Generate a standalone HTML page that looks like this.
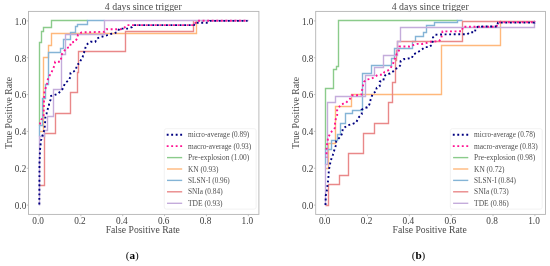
<!DOCTYPE html>
<html><head><meta charset="utf-8"><title>ROC curves</title>
<style>
html,body{margin:0;padding:0;background:#fff;width:550px;height:266px;overflow:hidden}
svg{display:block;font-family:'Liberation Serif', 'DejaVu Serif', serif}
</style></head><body>
<svg width="550" height="266" viewBox="0 0 550 266"><rect x="0" y="0" width="550" height="266" fill="#ffffff"/><text x="143.3" y="9.5" text-anchor="middle" font-size="10.4" textLength="77" lengthAdjust="spacingAndGlyphs" fill="#4a4a4a">4 days since trigger</text><clipPath id="cl"><rect x="28.5" y="11.4" width="230.39999999999998" height="203.0"/></clipPath><g clip-path="url(#cl)" fill="none" stroke-linejoin="miter"><g><path d="M39.5,125.5 V42.5 H41.5 V31.5 H43.5 V27.5 H51.5 V20.5 H87.5" stroke="#8bcb8b" stroke-width="1.4"/><path d="M39.5,131.5 H43.5 V57.5 H48.5 V45.5 H51.5 V33.5 H196.5 V20.5" stroke="#ffb87b" stroke-width="1.4"/><path d="M39.5,136.5 V125.5 H42.5 V98.5 H45.5 V84.5 H48.5 V52.5 H60.5 V48.5 H63.5 V39.5 H70.5 V32.5 H75.5 V26.5 H77.5 V24.5 H87.5 V20.5 H104.5" stroke="#84b4d6" stroke-width="1.4"/><path d="M39.5,185.5 H44.5 V133.5 H55.5 V113.5 H70.5 V92.5 H77.5 V72.5 H78.5 V51.5 H125.5 V31.5 H193.5 V20.5" stroke="#e98889" stroke-width="1.4"/><path d="M39.5,205.5 V136.5 H44.5 V130.5 H47.5 V116.5 H53.5 V89.5 H61.5 V54.5 H65.5 V34.5 H104.5 V20.5 H248.5" stroke="#c4acdb" stroke-width="1.4"/></g><polyline points="39.4,125.5 41.3,119.8 43.6,115.5 44.1,97.0 44.4,92.4 45.5,88.4 46.9,85.3 47.4,80.6 49.1,76.4 51.4,72.6 52.9,69.3 54.3,65.8 55.2,61.8 60.0,61.8 61.2,58.0 62.0,54.0 64.2,51.0 66.5,48.0 70.1,47.0 70.8,42.5 75.0,41.9 77.2,38.3 78.0,34.5 81.6,32.4 104.5,31.8 106.5,29.2 121.0,29.2 124.4,27.6 127.0,25.1 194.0,25.1 197.0,20.8 248.0,20.8" stroke="#ff1493" stroke-width="1.9" stroke-dasharray="1.9 2.65" stroke-dashoffset="-1.23"/><polyline points="39.3,204.4 39.5,163.0 40.0,150.0 41.0,140.5 42.0,137.0 43.2,133.5 44.3,130.0 44.8,126.0 45.1,122.0 45.3,117.5 46.5,114.0 47.3,110.0 48.7,107.0 49.2,103.0 50.5,100.0 51.0,96.0 54.6,95.0 58.5,93.5 60.5,91.0 63.0,88.5 64.0,85.5 65.7,82.5 68.5,80.5 70.4,77.0 70.5,73.0 73.7,71.5 76.1,69.5 76.6,65.2 79.2,63.3 80.9,60.0 82.7,57.2 83.3,53.4 85.1,50.6 85.6,46.3 87.7,43.8 90.6,41.8 95.3,41.8 96.5,38.8 99.9,37.1 103.6,36.3 107.2,35.2 110.7,34.0 114.3,33.2 117.8,31.7 119.3,28.6 128.5,28.6 132.0,27.1 134.0,25.1 194.0,25.1 196.0,22.7 208.0,22.7 210.0,20.9 247.6,20.9" stroke="#000080" stroke-width="1.9" stroke-dasharray="1.9 2.65"/></g><rect x="28.5" y="11.4" width="230.4" height="203.0" fill="none" stroke="#b4b4b4" stroke-width="0.9"/><line x1="39.00" y1="214.4" x2="39.00" y2="216.20000000000002" stroke="#b4b4b4" stroke-width="0.8"/><line x1="26.7" y1="205.10" x2="28.5" y2="205.10" stroke="#b4b4b4" stroke-width="0.8"/><text x="38.10" y="223.8" text-anchor="middle" font-size="9.8" textLength="11.6" lengthAdjust="spacingAndGlyphs" fill="#404040">0.0</text><text x="26.20" y="209.00" text-anchor="end" font-size="9.8" textLength="11.4" lengthAdjust="spacingAndGlyphs" fill="#404040">0.0</text><line x1="80.86" y1="214.4" x2="80.86" y2="216.20000000000002" stroke="#b4b4b4" stroke-width="0.8"/><line x1="26.7" y1="168.26" x2="28.5" y2="168.26" stroke="#b4b4b4" stroke-width="0.8"/><text x="79.96" y="223.8" text-anchor="middle" font-size="9.8" textLength="11.6" lengthAdjust="spacingAndGlyphs" fill="#404040">0.2</text><text x="26.20" y="172.16" text-anchor="end" font-size="9.8" textLength="11.4" lengthAdjust="spacingAndGlyphs" fill="#404040">0.2</text><line x1="122.72" y1="214.4" x2="122.72" y2="216.20000000000002" stroke="#b4b4b4" stroke-width="0.8"/><line x1="26.7" y1="131.42" x2="28.5" y2="131.42" stroke="#b4b4b4" stroke-width="0.8"/><text x="121.82" y="223.8" text-anchor="middle" font-size="9.8" textLength="11.6" lengthAdjust="spacingAndGlyphs" fill="#404040">0.4</text><text x="26.20" y="135.32" text-anchor="end" font-size="9.8" textLength="11.4" lengthAdjust="spacingAndGlyphs" fill="#404040">0.4</text><line x1="164.58" y1="214.4" x2="164.58" y2="216.20000000000002" stroke="#b4b4b4" stroke-width="0.8"/><line x1="26.7" y1="94.58" x2="28.5" y2="94.58" stroke="#b4b4b4" stroke-width="0.8"/><text x="163.68" y="223.8" text-anchor="middle" font-size="9.8" textLength="11.6" lengthAdjust="spacingAndGlyphs" fill="#404040">0.6</text><text x="26.20" y="98.48" text-anchor="end" font-size="9.8" textLength="11.4" lengthAdjust="spacingAndGlyphs" fill="#404040">0.6</text><line x1="206.44" y1="214.4" x2="206.44" y2="216.20000000000002" stroke="#b4b4b4" stroke-width="0.8"/><line x1="26.7" y1="57.74" x2="28.5" y2="57.74" stroke="#b4b4b4" stroke-width="0.8"/><text x="205.54" y="223.8" text-anchor="middle" font-size="9.8" textLength="11.6" lengthAdjust="spacingAndGlyphs" fill="#404040">0.8</text><text x="26.20" y="61.64" text-anchor="end" font-size="9.8" textLength="11.4" lengthAdjust="spacingAndGlyphs" fill="#404040">0.8</text><line x1="248.30" y1="214.4" x2="248.30" y2="216.20000000000002" stroke="#b4b4b4" stroke-width="0.8"/><line x1="26.7" y1="20.90" x2="28.5" y2="20.90" stroke="#b4b4b4" stroke-width="0.8"/><text x="247.40" y="223.8" text-anchor="middle" font-size="9.8" textLength="11.6" lengthAdjust="spacingAndGlyphs" fill="#404040">1.0</text><text x="26.20" y="24.80" text-anchor="end" font-size="9.8" textLength="11.4" lengthAdjust="spacingAndGlyphs" fill="#404040">1.0</text><text x="142.8" y="233.2" text-anchor="middle" font-size="9.8" textLength="74.2" lengthAdjust="spacingAndGlyphs" fill="#4a4a4a">False Positive Rate</text><text transform="translate(12.0,112.9) rotate(-90)" x="0" y="0" text-anchor="middle" font-size="9.8" textLength="72" lengthAdjust="spacingAndGlyphs" fill="#4a4a4a">True Positive Rate</text><rect x="164.3" y="128.7" width="91.8" height="80.4" rx="2" ry="2" fill="#ffffff" fill-opacity="0.8" stroke="#efefef" stroke-width="0.8"/><line x1="166.7" y1="134.7" x2="182.7" y2="134.7" stroke="#000080" stroke-width="1.9" stroke-dasharray="1.9 2.60"/><text x="188.0" y="137.3" font-size="7.9" textLength="61.2" lengthAdjust="spacingAndGlyphs" fill="#505050">micro-average (0.89)</text><line x1="166.7" y1="146.1" x2="182.7" y2="146.1" stroke="#ff1493" stroke-width="1.9" stroke-dasharray="1.9 2.60"/><text x="188.0" y="148.7" font-size="7.9" textLength="63.2" lengthAdjust="spacingAndGlyphs" fill="#505050">macro-average (0.93)</text><line x1="167.0" y1="157.6" x2="182.2" y2="157.6" stroke="#8bcb8b" stroke-opacity="1" stroke-width="1.4"/><text x="188.0" y="160.2" font-size="7.9" textLength="61.2" lengthAdjust="spacingAndGlyphs" fill="#505050">Pre-explosion (1.00)</text><line x1="167.0" y1="169.0" x2="182.2" y2="169.0" stroke="#ffb87b" stroke-opacity="1" stroke-width="1.4"/><text x="188.0" y="171.6" font-size="7.9" textLength="30.4" lengthAdjust="spacingAndGlyphs" fill="#505050">KN (0.93)</text><line x1="167.0" y1="180.4" x2="182.2" y2="180.4" stroke="#84b4d6" stroke-opacity="1" stroke-width="1.4"/><text x="188.0" y="183.0" font-size="7.9" textLength="41.7" lengthAdjust="spacingAndGlyphs" fill="#505050">SLSN-I (0.96)</text><line x1="167.0" y1="191.8" x2="182.2" y2="191.8" stroke="#e98889" stroke-opacity="1" stroke-width="1.4"/><text x="188.0" y="194.4" font-size="7.9" textLength="34.6" lengthAdjust="spacingAndGlyphs" fill="#505050">SNIa (0.84)</text><line x1="167.0" y1="203.3" x2="182.2" y2="203.3" stroke="#c4acdb" stroke-opacity="1" stroke-width="1.4"/><text x="188.0" y="205.9" font-size="7.9" textLength="34.6" lengthAdjust="spacingAndGlyphs" fill="#505050">TDE (0.93)</text><text x="430.2" y="9.5" text-anchor="middle" font-size="10.4" textLength="77" lengthAdjust="spacingAndGlyphs" fill="#4a4a4a">4 days since trigger</text><clipPath id="cr"><rect x="315.7" y="11.4" width="229.8" height="203.0"/></clipPath><g clip-path="url(#cr)" fill="none" stroke-linejoin="miter"><g><path d="M325.5,149.5 V88.5 H333.5 V69.5 H336.5 V66.5 H338.5 V20.5 H457.5" stroke="#8bcb8b" stroke-width="1.4"/><path d="M325.5,168.5 H328.5 V143.5 H335.5 V106.5 H351.5 V94.5 H441.5 V45.5 H500.5 V20.5" stroke="#ffb87b" stroke-width="1.4"/><path d="M325.5,164.5 V149.5 H331.5 V140.5 H337.5 V134.5 H340.5 V123.5 H345.5 V113.5 H352.5 V110.5 H362.5 V73.5 H371.5 V65.5 H391.5 V58.5 H394.5 V48.5 H412.5 V41.5 H415.5 V36.5 H423.5 V32.5 H426.5 V25.5 H434.5 V22.5 H457.5 V20.5 H462.5" stroke="#84b4d6" stroke-width="1.4"/><path d="M325.5,205.5 H328.5 V184.5 H339.5 V175.5 H348.5 V153.5 H363.5 V133.5 H374.5 V123.5 H388.5 V102.5 H392.5 V82.5 H395.5 V60.5 H396.5 V50.5 H397.5 V41.5 H462.5 V21.5 H534.5" stroke="#e98889" stroke-width="1.4"/><path d="M325.5,205.5 V164.5 H327.5 V102.5 H335.5 V96.5 H365.5 V75.5 H374.5 V67.5 H383.5 V55.5 H397.5 V41.5 H400.5 V27.5 H534.5 V20.5" stroke="#c4acdb" stroke-width="1.4"/></g><polyline points="326.5,157.6 326.5,151.5 326.6,146.6 327.5,142.2 328.0,137.8 330.0,134.0 332.0,131.0 334.8,128.0 335.0,123.5 335.8,119.0 337.2,115.0 337.0,110.5 339.5,106.5 341.7,104.0 345.5,103.3 347.8,101.0 350.3,98.5 352.0,95.2 357.0,95.2 361.5,94.5 362.0,90.5 362.9,86.1 364.0,81.8 367.1,79.4 371.6,78.8 374.6,76.8 378.0,74.7 382.6,74.7 384.5,71.9 388.0,70.5 390.5,68.0 392.5,65.0 394.0,61.0 395.6,57.2 396.7,53.8 399.0,50.4 399.5,46.5 409.7,46.5 413.6,45.0 417.5,43.9 422.0,44.0 426.0,43.2 429.7,41.7 439.0,41.2 441.2,38.7 442.5,31.4 462.0,31.3 462.8,26.8 496.0,26.7 500.0,22.3 534.5,22.3 534.9,21.0" stroke="#ff1493" stroke-width="1.9" stroke-dasharray="1.9 2.65" stroke-dashoffset="1.1"/><polyline points="325.5,205.0 325.8,195.3 326.7,191.6 327.2,187.6 327.8,183.2 328.2,179.2 328.6,174.8 328.8,170.3 329.6,166.3 330.3,162.7 331.6,158.0 332.8,155.0 334.5,149.5 336.0,145.0 336.2,141.1 338.8,138.4 341.0,135.8 342.5,132.8 342.6,129.1 344.8,127.3 347.8,125.3 351.5,124.2 356.0,122.7 359.0,117.0 361.8,114.3 361.6,109.8 364.3,108.0 367.3,107.3 368.8,106.0 369.7,103.5 370.5,100.0 371.6,96.5 373.0,93.5 375.9,91.4 376.7,87.8 379.7,86.1 379.8,81.6 383.4,80.7 384.0,76.5 386.2,74.3 390.0,73.5 393.0,71.5 395.0,69.0 398.5,67.5 400.6,65.0 400.6,61.1 403.5,59.2 408.0,58.5 411.9,58.1 413.0,54.7 416.4,52.9 419.2,51.3 422.1,49.3 425.0,47.1 429.0,47.1 431.9,44.9 432.8,40.9 433.0,37.3 435.5,34.7 444.0,34.4 467.3,34.2 470.0,32.2 475.0,32.2 475.5,28.6 478.0,26.6 497.0,26.5 498.0,22.6 534.5,22.6 534.9,21.0" stroke="#000080" stroke-width="1.9" stroke-dasharray="1.9 2.65"/></g><rect x="315.7" y="11.4" width="229.8" height="203.0" fill="none" stroke="#b4b4b4" stroke-width="0.9"/><line x1="325.60" y1="214.4" x2="325.60" y2="216.20000000000002" stroke="#b4b4b4" stroke-width="0.8"/><line x1="313.9" y1="205.10" x2="315.7" y2="205.10" stroke="#b4b4b4" stroke-width="0.8"/><text x="324.70" y="223.8" text-anchor="middle" font-size="9.8" textLength="11.6" lengthAdjust="spacingAndGlyphs" fill="#404040">0.0</text><text x="313.40" y="209.00" text-anchor="end" font-size="9.8" textLength="11.4" lengthAdjust="spacingAndGlyphs" fill="#404040">0.0</text><line x1="367.46" y1="214.4" x2="367.46" y2="216.20000000000002" stroke="#b4b4b4" stroke-width="0.8"/><line x1="313.9" y1="168.26" x2="315.7" y2="168.26" stroke="#b4b4b4" stroke-width="0.8"/><text x="366.56" y="223.8" text-anchor="middle" font-size="9.8" textLength="11.6" lengthAdjust="spacingAndGlyphs" fill="#404040">0.2</text><text x="313.40" y="172.16" text-anchor="end" font-size="9.8" textLength="11.4" lengthAdjust="spacingAndGlyphs" fill="#404040">0.2</text><line x1="409.32" y1="214.4" x2="409.32" y2="216.20000000000002" stroke="#b4b4b4" stroke-width="0.8"/><line x1="313.9" y1="131.42" x2="315.7" y2="131.42" stroke="#b4b4b4" stroke-width="0.8"/><text x="408.42" y="223.8" text-anchor="middle" font-size="9.8" textLength="11.6" lengthAdjust="spacingAndGlyphs" fill="#404040">0.4</text><text x="313.40" y="135.32" text-anchor="end" font-size="9.8" textLength="11.4" lengthAdjust="spacingAndGlyphs" fill="#404040">0.4</text><line x1="451.18" y1="214.4" x2="451.18" y2="216.20000000000002" stroke="#b4b4b4" stroke-width="0.8"/><line x1="313.9" y1="94.58" x2="315.7" y2="94.58" stroke="#b4b4b4" stroke-width="0.8"/><text x="450.28" y="223.8" text-anchor="middle" font-size="9.8" textLength="11.6" lengthAdjust="spacingAndGlyphs" fill="#404040">0.6</text><text x="313.40" y="98.48" text-anchor="end" font-size="9.8" textLength="11.4" lengthAdjust="spacingAndGlyphs" fill="#404040">0.6</text><line x1="493.04" y1="214.4" x2="493.04" y2="216.20000000000002" stroke="#b4b4b4" stroke-width="0.8"/><line x1="313.9" y1="57.74" x2="315.7" y2="57.74" stroke="#b4b4b4" stroke-width="0.8"/><text x="492.14" y="223.8" text-anchor="middle" font-size="9.8" textLength="11.6" lengthAdjust="spacingAndGlyphs" fill="#404040">0.8</text><text x="313.40" y="61.64" text-anchor="end" font-size="9.8" textLength="11.4" lengthAdjust="spacingAndGlyphs" fill="#404040">0.8</text><line x1="534.90" y1="214.4" x2="534.90" y2="216.20000000000002" stroke="#b4b4b4" stroke-width="0.8"/><line x1="313.9" y1="20.90" x2="315.7" y2="20.90" stroke="#b4b4b4" stroke-width="0.8"/><text x="534.00" y="223.8" text-anchor="middle" font-size="9.8" textLength="11.6" lengthAdjust="spacingAndGlyphs" fill="#404040">1.0</text><text x="313.40" y="24.80" text-anchor="end" font-size="9.8" textLength="11.4" lengthAdjust="spacingAndGlyphs" fill="#404040">1.0</text><text x="429.7" y="233.2" text-anchor="middle" font-size="9.8" textLength="74.2" lengthAdjust="spacingAndGlyphs" fill="#4a4a4a">False Positive Rate</text><text transform="translate(299.2,112.9) rotate(-90)" x="0" y="0" text-anchor="middle" font-size="9.8" textLength="72" lengthAdjust="spacingAndGlyphs" fill="#4a4a4a">True Positive Rate</text><rect x="450.4" y="128.7" width="91.8" height="80.4" rx="2" ry="2" fill="#ffffff" fill-opacity="0.8" stroke="#efefef" stroke-width="0.8"/><line x1="452.8" y1="134.7" x2="468.8" y2="134.7" stroke="#000080" stroke-width="1.9" stroke-dasharray="1.9 2.60"/><text x="474.1" y="137.3" font-size="7.9" textLength="61.2" lengthAdjust="spacingAndGlyphs" fill="#505050">micro-average (0.78)</text><line x1="452.8" y1="146.1" x2="468.8" y2="146.1" stroke="#ff1493" stroke-width="1.9" stroke-dasharray="1.9 2.60"/><text x="474.1" y="148.7" font-size="7.9" textLength="63.6" lengthAdjust="spacingAndGlyphs" fill="#505050">macro-average (0.83)</text><line x1="453.1" y1="157.6" x2="468.3" y2="157.6" stroke="#8bcb8b" stroke-opacity="1" stroke-width="1.4"/><text x="474.1" y="160.2" font-size="7.9" textLength="61.2" lengthAdjust="spacingAndGlyphs" fill="#505050">Pre-explosion (0.98)</text><line x1="453.1" y1="169.0" x2="468.3" y2="169.0" stroke="#ffb87b" stroke-opacity="1" stroke-width="1.4"/><text x="474.1" y="171.6" font-size="7.9" textLength="30.4" lengthAdjust="spacingAndGlyphs" fill="#505050">KN (0.72)</text><line x1="453.1" y1="180.4" x2="468.3" y2="180.4" stroke="#84b4d6" stroke-opacity="1" stroke-width="1.4"/><text x="474.1" y="183.0" font-size="7.9" textLength="41.7" lengthAdjust="spacingAndGlyphs" fill="#505050">SLSN-I (0.84)</text><line x1="453.1" y1="191.8" x2="468.3" y2="191.8" stroke="#e98889" stroke-opacity="1" stroke-width="1.4"/><text x="474.1" y="194.4" font-size="7.9" textLength="34.6" lengthAdjust="spacingAndGlyphs" fill="#505050">SNIa (0.73)</text><line x1="453.1" y1="203.3" x2="468.3" y2="203.3" stroke="#c4acdb" stroke-opacity="1" stroke-width="1.4"/><text x="474.1" y="205.9" font-size="7.9" textLength="34.6" lengthAdjust="spacingAndGlyphs" fill="#505050">TDE (0.86)</text><text x="132.2" y="258.9" text-anchor="middle" font-size="11.2" fill="#111"><tspan>(</tspan><tspan font-weight="bold" fill="#000">a</tspan><tspan>)</tspan></text><text x="418.5" y="258.9" text-anchor="middle" font-size="11.2" fill="#111"><tspan>(</tspan><tspan font-weight="bold" fill="#000">b</tspan><tspan>)</tspan></text></svg>
</body></html>
